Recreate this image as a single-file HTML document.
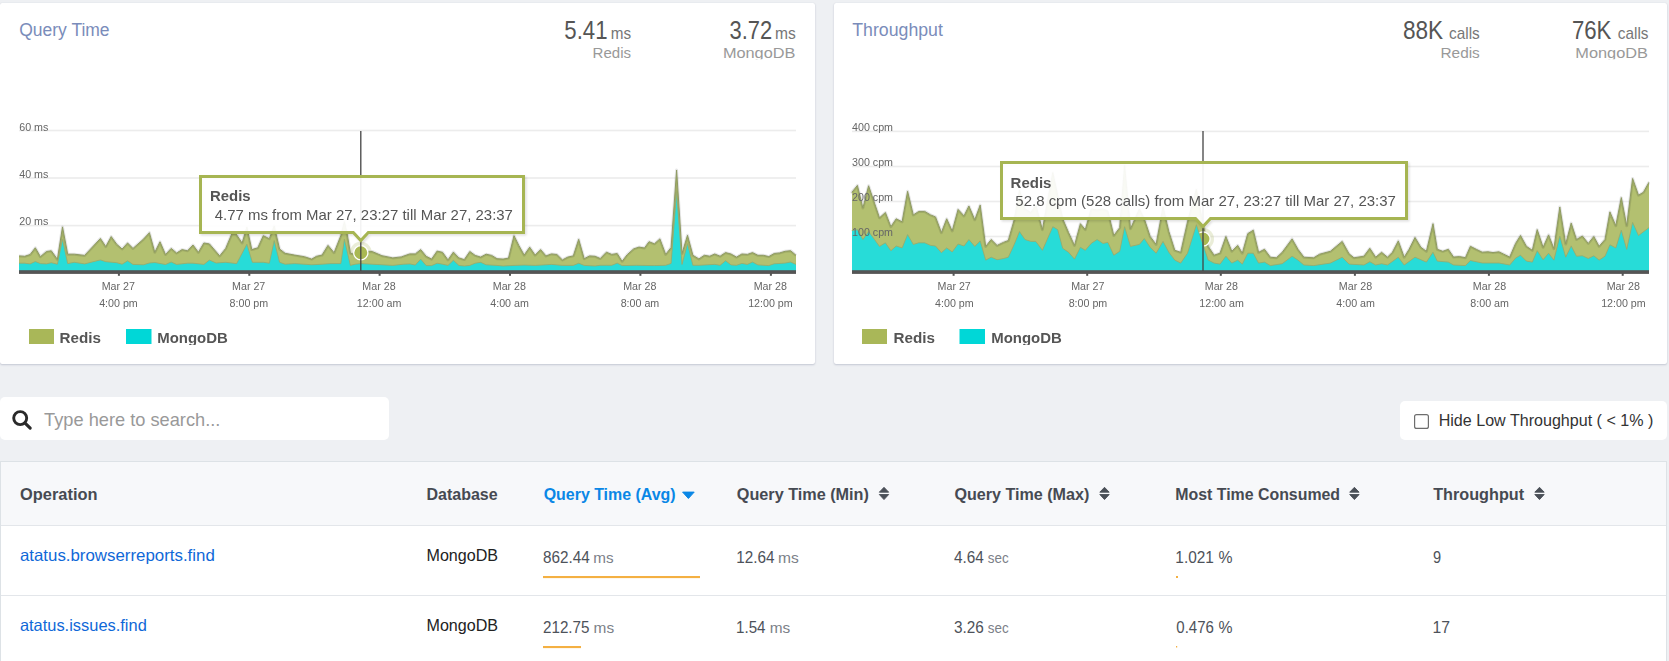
<!DOCTYPE html>
<html><head><meta charset="utf-8"><title>Database Queries</title>
<style>
html,body{margin:0;padding:0;}
body{width:1669px;height:661px;overflow:hidden;position:relative;background:#eef0f3;font-family:"Liberation Sans",sans-serif;}
.card{position:absolute;background:#fff;border-radius:2px;box-shadow:0 1px 2px rgba(60,70,110,0.22),0 0 1px rgba(60,70,110,0.15);}
.box{position:absolute;background:#fff;border-radius:5px;}
.table{position:absolute;left:0;top:461px;width:1667px;height:220px;background:#fff;border:1px solid #dde2e6;box-sizing:border-box;}
.thead{position:absolute;left:0;top:0;right:0;height:63px;background:#f7f8fa;border-bottom:1px solid #e3e6ea;}
.sep{position:absolute;left:0;right:0;top:133px;height:1px;background:#e3e6ea;}
svg{position:absolute;left:0;top:0;}
.charts{will-change:transform;}
</style></head>
<body>
<div class="card" style="left:0;top:3px;width:815px;height:361px"></div>
<div class="card" style="left:834px;top:3px;width:833px;height:361px"></div>
<div class="box" style="left:0;top:397px;width:389px;height:43px"></div>
<div class="box" style="left:1400px;top:401px;width:267px;height:39px"></div>
<div class="table"><div class="thead"></div><div class="sep"></div></div>
<svg width="1669" height="661" viewBox="0 0 1669 661" font-family="Liberation Sans, sans-serif">
<defs><clipPath id="clip593"><rect x="0" y="0" width="1669" height="59.3"/></clipPath><clipPath id="clip3450"><rect x="0" y="0" width="1669" height="345.0"/></clipPath><filter id="blur" x="-5%" y="-20%" width="110%" height="140%"><feGaussianBlur stdDeviation="1"/></filter></defs>
<text x="19.20" y="35.80" font-size="17.5" fill="#7a8cba" textLength="90.43" lengthAdjust="spacingAndGlyphs">Query Time</text>
<text x="852.30" y="35.80" font-size="17.5" fill="#7a8cba" textLength="90.56" lengthAdjust="spacingAndGlyphs">Throughput</text>
<text x="564.31" y="39.00" font-size="25" fill="#555" textLength="43.19" lengthAdjust="spacingAndGlyphs">5.41</text>
<text x="610.70" y="39.00" font-size="17" fill="#777" textLength="20.35" lengthAdjust="spacingAndGlyphs">ms</text>
<text x="592.60" y="58.40" font-size="15" fill="#999" textLength="38.51" lengthAdjust="spacingAndGlyphs" clip-path="url(#clip593)">Redis</text>
<text x="729.50" y="39.00" font-size="25" fill="#555" textLength="42.69" lengthAdjust="spacingAndGlyphs">3.72</text>
<text x="775.08" y="39.00" font-size="17" fill="#777" textLength="20.78" lengthAdjust="spacingAndGlyphs">ms</text>
<text x="722.91" y="58.40" font-size="15" fill="#999" textLength="72.49" lengthAdjust="spacingAndGlyphs" clip-path="url(#clip593)">MongoDB</text>
<text x="1402.90" y="39.00" font-size="25" fill="#555" textLength="40.21" lengthAdjust="spacingAndGlyphs">88K</text>
<text x="1449.00" y="39.00" font-size="17" fill="#777" textLength="30.75" lengthAdjust="spacingAndGlyphs">calls</text>
<text x="1440.47" y="58.40" font-size="15" fill="#999" textLength="39.34" lengthAdjust="spacingAndGlyphs" clip-path="url(#clip593)">Redis</text>
<text x="1571.91" y="39.00" font-size="25" fill="#555" textLength="39.50" lengthAdjust="spacingAndGlyphs">76K</text>
<text x="1617.80" y="39.00" font-size="17" fill="#777" textLength="30.65" lengthAdjust="spacingAndGlyphs">calls</text>
<text x="1575.31" y="58.40" font-size="15" fill="#999" textLength="72.70" lengthAdjust="spacingAndGlyphs" clip-path="url(#clip593)">MongoDB</text>
<text x="44.10" y="425.80" font-size="19" fill="#999" textLength="176.23" lengthAdjust="spacingAndGlyphs">Type here to search...</text>
<text x="1438.70" y="425.60" font-size="16" fill="#333" textLength="214.63" lengthAdjust="spacingAndGlyphs">Hide Low Throughput ( &lt; 1% )</text>
<text x="20.10" y="500.00" font-size="16" font-weight="bold" fill="#464a52" textLength="77.39" lengthAdjust="spacingAndGlyphs">Operation</text>
<text x="426.50" y="500.00" font-size="16" font-weight="bold" fill="#464a52" textLength="71.10" lengthAdjust="spacingAndGlyphs">Database</text>
<text x="543.70" y="500.00" font-size="16" font-weight="bold" fill="#0a87e6" textLength="131.93" lengthAdjust="spacingAndGlyphs">Query Time (Avg)</text>
<text x="736.80" y="500.00" font-size="16" font-weight="bold" fill="#464a52" textLength="132.13" lengthAdjust="spacingAndGlyphs">Query Time (Min)</text>
<text x="954.40" y="500.00" font-size="16" font-weight="bold" fill="#464a52" textLength="134.93" lengthAdjust="spacingAndGlyphs">Query Time (Max)</text>
<text x="1175.31" y="500.00" font-size="16" font-weight="bold" fill="#464a52" textLength="164.76" lengthAdjust="spacingAndGlyphs">Most Time Consumed</text>
<text x="1433.20" y="500.00" font-size="16" font-weight="bold" fill="#464a52" textLength="90.92" lengthAdjust="spacingAndGlyphs">Throughput</text>
<text x="19.90" y="561.20" font-size="16.5" fill="#0f68d8" textLength="194.88" lengthAdjust="spacingAndGlyphs">atatus.browserreports.find</text>
<text x="426.50" y="560.70" font-size="16" fill="#222" textLength="71.48" lengthAdjust="spacingAndGlyphs">MongoDB</text>
<text x="19.90" y="631.20" font-size="16.5" fill="#0f68d8" textLength="126.88" lengthAdjust="spacingAndGlyphs">atatus.issues.find</text>
<text x="426.50" y="630.70" font-size="16" fill="#222" textLength="71.48" lengthAdjust="spacingAndGlyphs">MongoDB</text>
<text x="543.10" y="562.90" font-size="16" fill="#4d525a" textLength="46.70" lengthAdjust="spacingAndGlyphs">862.44</text>
<text x="593.38" y="562.90" font-size="15" fill="#7b8088" textLength="20.32" lengthAdjust="spacingAndGlyphs">ms</text>
<text x="736.24" y="562.90" font-size="16" fill="#4d525a" textLength="38.26" lengthAdjust="spacingAndGlyphs">12.64</text>
<text x="778.06" y="562.90" font-size="15" fill="#7b8088" textLength="20.76" lengthAdjust="spacingAndGlyphs">ms</text>
<text x="954.00" y="562.90" font-size="16" fill="#4d525a" textLength="29.80" lengthAdjust="spacingAndGlyphs">4.64</text>
<text x="987.80" y="562.90" font-size="15" fill="#7b8088" textLength="20.85" lengthAdjust="spacingAndGlyphs">sec</text>
<text x="1175.34" y="562.90" font-size="16" fill="#4d525a" textLength="38.57" lengthAdjust="spacingAndGlyphs">1.021</text>
<text x="1218.50" y="562.90" font-size="16" fill="#4d525a" textLength="14.02" lengthAdjust="spacingAndGlyphs">%</text>
<text x="1432.90" y="562.90" font-size="16" fill="#4d525a" textLength="8.11" lengthAdjust="spacingAndGlyphs">9</text>
<text x="543.00" y="632.90" font-size="16" fill="#4d525a" textLength="46.50" lengthAdjust="spacingAndGlyphs">212.75</text>
<text x="593.57" y="632.90" font-size="15" fill="#7b8088" textLength="20.54" lengthAdjust="spacingAndGlyphs">ms</text>
<text x="736.05" y="632.90" font-size="16" fill="#4d525a" textLength="29.45" lengthAdjust="spacingAndGlyphs">1.54</text>
<text x="769.77" y="632.90" font-size="15" fill="#7b8088" textLength="20.54" lengthAdjust="spacingAndGlyphs">ms</text>
<text x="954.00" y="632.90" font-size="16" fill="#4d525a" textLength="29.80" lengthAdjust="spacingAndGlyphs">3.26</text>
<text x="987.80" y="632.90" font-size="15" fill="#7b8088" textLength="20.85" lengthAdjust="spacingAndGlyphs">sec</text>
<text x="1176.30" y="632.90" font-size="16" fill="#4d525a" textLength="37.60" lengthAdjust="spacingAndGlyphs">0.476</text>
<text x="1218.50" y="632.90" font-size="16" fill="#4d525a" textLength="14.02" lengthAdjust="spacingAndGlyphs">%</text>
<text x="1432.62" y="632.90" font-size="16" fill="#4d525a" textLength="17.48" lengthAdjust="spacingAndGlyphs">17</text>
<circle cx="20.2" cy="418.1" r="6.5" fill="none" stroke="#2a2a2a" stroke-width="2.9"/>
<line x1="24.8" y1="422.8" x2="30.2" y2="428.2" stroke="#2a2a2a" stroke-width="3.1" stroke-linecap="round"/>
<rect x="1414.6" y="414.6" width="13.8" height="13.8" rx="2" fill="#fff" stroke="#6e6e6e" stroke-width="1.2"/>
<path d="M879.3,492.2 L884.0,487.3 L888.6999999999999,492.2 Z M879.3,494.5 L884.0,499.6 L888.6999999999999,494.5 Z" fill="#4a4f57" stroke="#4a4f57" stroke-width="0.9" stroke-linejoin="round"/>
<path d="M1099.8000000000002,492.2 L1104.5,487.3 L1109.2,492.2 Z M1099.8000000000002,494.5 L1104.5,499.6 L1109.2,494.5 Z" fill="#4a4f57" stroke="#4a4f57" stroke-width="0.9" stroke-linejoin="round"/>
<path d="M1349.7,492.2 L1354.3999999999999,487.3 L1359.1,492.2 Z M1349.7,494.5 L1354.3999999999999,499.6 L1359.1,494.5 Z" fill="#4a4f57" stroke="#4a4f57" stroke-width="0.9" stroke-linejoin="round"/>
<path d="M1534.8000000000002,492.2 L1539.5,487.3 L1544.2,492.2 Z M1534.8000000000002,494.5 L1539.5,499.6 L1544.2,494.5 Z" fill="#4a4f57" stroke="#4a4f57" stroke-width="0.9" stroke-linejoin="round"/>
<path d="M682.6,492.1 L694.2,492.1 L688.4,498.5 Z" fill="#0a87e6" stroke="#0a87e6" stroke-width="1" stroke-linejoin="round"/>
<rect x="543" y="576" width="157" height="2.1" fill="#f4b042"/>
<rect x="543" y="646" width="38" height="2.1" fill="#f4b042"/>
<rect x="1176" y="576" width="2" height="2" fill="#f4b042"/>
<rect x="1176" y="646" width="1.2" height="1.5" fill="#f4b042"/>
</svg>
<svg class="charts" width="1669" height="370" viewBox="0 0 1669 370" font-family="Liberation Sans, sans-serif">
<defs><clipPath id="cclip593"><rect x="0" y="0" width="1669" height="59.3"/></clipPath><clipPath id="cclip3450"><rect x="0" y="0" width="1669" height="345.0"/></clipPath><filter id="blur2" x="-5%" y="-20%" width="110%" height="140%"><feGaussianBlur stdDeviation="1"/></filter></defs>
<rect x="19" y="129.7" width="777" height="1.6" fill="#ececec"/>
<rect x="19" y="177.2" width="777" height="1.6" fill="#ececec"/>
<rect x="19" y="224.79999999999998" width="777" height="1.6" fill="#ececec"/>
<circle cx="360.8" cy="252.7" r="11" fill="#b9c57e" fill-opacity="0.3"/>
<polygon points="19.0,271.5 19.0,255.9 19.2,255.9 24.7,256.3 30.1,254.5 35.3,247.8 40.4,256.7 46.5,251.5 51.3,250.8 57.4,259.3 62.5,226.9 67.7,254.2 74.3,254.2 84.6,255.4 100.4,238.5 105.8,246.6 111.2,236.6 116.7,244.2 122.1,249.0 127.6,243.0 133.0,248.4 143.3,239.3 149.4,232.7 154.8,252.3 160.0,241.8 165.5,254.5 171.2,248.4 176.6,253.0 182.1,249.6 187.5,250.8 193.0,245.0 198.4,252.3 203.9,243.0 209.4,243.9 219.7,255.9 225.7,248.4 231.8,233.9 236.0,233.9 242.1,243.0 246.9,227.2 251.8,249.6 257.8,247.8 263.3,235.7 269.3,238.7 274.2,226.0 279.6,249.0 285.1,253.3 294.7,255.1 304.4,256.7 311.7,259.1 316.5,256.3 322.0,255.1 328.0,245.4 334.1,252.7 340.8,235.7 344.4,221.8 347.4,235.1 350.4,253.3 355.3,254.5 361.3,252.1 372.2,251.5 381.9,255.7 392.8,257.9 401.3,256.9 409.8,253.9 415.3,253.9 420.7,249.6 426.2,256.3 431.6,259.1 437.1,251.1 442.5,252.3 448.0,259.9 453.4,252.1 458.9,257.9 464.3,259.6 469.8,251.5 475.2,255.4 480.7,257.1 486.1,254.2 491.6,255.4 497.0,258.7 503.1,259.1 508.5,258.1 514.0,235.7 518.8,245.4 524.2,255.1 529.7,247.2 535.1,255.1 540.6,249.6 546.0,255.9 551.5,253.9 556.9,254.5 562.4,259.9 567.8,257.1 573.3,255.9 578.7,239.3 584.2,258.7 589.6,255.9 595.1,256.3 600.3,258.5 606.4,252.2 611.8,254.4 617.2,253.5 622.1,261.3 627.2,254.7 633.6,248.9 639.0,247.1 644.5,248.0 649.0,241.7 654.4,243.8 659.9,238.9 665.7,254.4 671.1,247.5 676.6,170.0 682.0,253.5 687.5,235.3 692.9,255.3 698.9,258.9 704.4,255.3 709.8,256.2 714.7,254.0 720.1,256.2 725.6,252.6 731.0,254.0 736.5,257.1 741.9,254.0 747.4,254.4 752.5,252.6 757.9,255.3 763.3,255.3 768.8,256.6 774.2,253.5 779.7,252.9 785.1,251.3 790.6,250.7 796.0,255.3 796.0,255.3 796.0,271.5" fill="#b3c070"/>
<polyline points="19.0,255.9 19.2,255.9 24.7,256.3 30.1,254.5 35.3,247.8 40.4,256.7 46.5,251.5 51.3,250.8 57.4,259.3 62.5,226.9 67.7,254.2 74.3,254.2 84.6,255.4 100.4,238.5 105.8,246.6 111.2,236.6 116.7,244.2 122.1,249.0 127.6,243.0 133.0,248.4 143.3,239.3 149.4,232.7 154.8,252.3 160.0,241.8 165.5,254.5 171.2,248.4 176.6,253.0 182.1,249.6 187.5,250.8 193.0,245.0 198.4,252.3 203.9,243.0 209.4,243.9 219.7,255.9 225.7,248.4 231.8,233.9 236.0,233.9 242.1,243.0 246.9,227.2 251.8,249.6 257.8,247.8 263.3,235.7 269.3,238.7 274.2,226.0 279.6,249.0 285.1,253.3 294.7,255.1 304.4,256.7 311.7,259.1 316.5,256.3 322.0,255.1 328.0,245.4 334.1,252.7 340.8,235.7 344.4,221.8 347.4,235.1 350.4,253.3 355.3,254.5 361.3,252.1 372.2,251.5 381.9,255.7 392.8,257.9 401.3,256.9 409.8,253.9 415.3,253.9 420.7,249.6 426.2,256.3 431.6,259.1 437.1,251.1 442.5,252.3 448.0,259.9 453.4,252.1 458.9,257.9 464.3,259.6 469.8,251.5 475.2,255.4 480.7,257.1 486.1,254.2 491.6,255.4 497.0,258.7 503.1,259.1 508.5,258.1 514.0,235.7 518.8,245.4 524.2,255.1 529.7,247.2 535.1,255.1 540.6,249.6 546.0,255.9 551.5,253.9 556.9,254.5 562.4,259.9 567.8,257.1 573.3,255.9 578.7,239.3 584.2,258.7 589.6,255.9 595.1,256.3 600.3,258.5 606.4,252.2 611.8,254.4 617.2,253.5 622.1,261.3 627.2,254.7 633.6,248.9 639.0,247.1 644.5,248.0 649.0,241.7 654.4,243.8 659.9,238.9 665.7,254.4 671.1,247.5 676.6,170.0 682.0,253.5 687.5,235.3 692.9,255.3 698.9,258.9 704.4,255.3 709.8,256.2 714.7,254.0 720.1,256.2 725.6,252.6 731.0,254.0 736.5,257.1 741.9,254.0 747.4,254.4 752.5,252.6 757.9,255.3 763.3,255.3 768.8,256.6 774.2,253.5 779.7,252.9 785.1,251.3 790.6,250.7 796.0,255.3 796.0,255.3" fill="none" stroke="#000" stroke-opacity="0.10" stroke-width="3.0" stroke-linejoin="round"/>
<polyline points="19.0,255.9 19.2,255.9 24.7,256.3 30.1,254.5 35.3,247.8 40.4,256.7 46.5,251.5 51.3,250.8 57.4,259.3 62.5,226.9 67.7,254.2 74.3,254.2 84.6,255.4 100.4,238.5 105.8,246.6 111.2,236.6 116.7,244.2 122.1,249.0 127.6,243.0 133.0,248.4 143.3,239.3 149.4,232.7 154.8,252.3 160.0,241.8 165.5,254.5 171.2,248.4 176.6,253.0 182.1,249.6 187.5,250.8 193.0,245.0 198.4,252.3 203.9,243.0 209.4,243.9 219.7,255.9 225.7,248.4 231.8,233.9 236.0,233.9 242.1,243.0 246.9,227.2 251.8,249.6 257.8,247.8 263.3,235.7 269.3,238.7 274.2,226.0 279.6,249.0 285.1,253.3 294.7,255.1 304.4,256.7 311.7,259.1 316.5,256.3 322.0,255.1 328.0,245.4 334.1,252.7 340.8,235.7 344.4,221.8 347.4,235.1 350.4,253.3 355.3,254.5 361.3,252.1 372.2,251.5 381.9,255.7 392.8,257.9 401.3,256.9 409.8,253.9 415.3,253.9 420.7,249.6 426.2,256.3 431.6,259.1 437.1,251.1 442.5,252.3 448.0,259.9 453.4,252.1 458.9,257.9 464.3,259.6 469.8,251.5 475.2,255.4 480.7,257.1 486.1,254.2 491.6,255.4 497.0,258.7 503.1,259.1 508.5,258.1 514.0,235.7 518.8,245.4 524.2,255.1 529.7,247.2 535.1,255.1 540.6,249.6 546.0,255.9 551.5,253.9 556.9,254.5 562.4,259.9 567.8,257.1 573.3,255.9 578.7,239.3 584.2,258.7 589.6,255.9 595.1,256.3 600.3,258.5 606.4,252.2 611.8,254.4 617.2,253.5 622.1,261.3 627.2,254.7 633.6,248.9 639.0,247.1 644.5,248.0 649.0,241.7 654.4,243.8 659.9,238.9 665.7,254.4 671.1,247.5 676.6,170.0 682.0,253.5 687.5,235.3 692.9,255.3 698.9,258.9 704.4,255.3 709.8,256.2 714.7,254.0 720.1,256.2 725.6,252.6 731.0,254.0 736.5,257.1 741.9,254.0 747.4,254.4 752.5,252.6 757.9,255.3 763.3,255.3 768.8,256.6 774.2,253.5 779.7,252.9 785.1,251.3 790.6,250.7 796.0,255.3 796.0,255.3" fill="none" stroke="#8e9a62" stroke-width="1.0" stroke-linejoin="round"/>
<circle cx="360.8" cy="252.7" r="7.1" fill="#a9b852" stroke="#fff" stroke-width="1.3"/>
<polygon points="19.0,271.5 19.0,263.2 19.2,263.2 24.7,263.2 30.1,263.9 35.3,261.5 40.4,263.6 46.5,263.9 51.3,262.7 57.4,264.2 62.5,239.3 67.7,263.6 74.3,262.3 84.6,263.9 100.4,259.9 105.8,261.7 116.7,262.7 122.1,264.2 127.6,260.8 133.0,264.4 143.3,264.8 149.4,263.0 154.8,262.5 165.5,264.5 171.2,262.0 176.6,264.4 187.5,263.2 193.0,263.2 203.9,264.4 209.4,260.0 216.1,263.0 225.7,262.3 236.6,263.6 246.9,244.2 252.4,262.3 263.3,262.3 269.3,263.2 274.2,240.6 279.6,262.3 285.1,264.2 294.7,263.6 306.9,264.4 311.7,264.8 322.0,264.2 331.1,263.6 340.8,263.6 344.4,239.3 350.4,265.4 355.3,264.2 361.3,263.6 372.2,264.2 381.9,264.8 392.8,265.4 403.7,264.2 409.8,263.9 415.3,265.1 420.7,259.1 426.2,265.6 431.6,265.6 437.1,263.2 442.5,264.2 448.0,265.4 453.4,260.3 458.9,265.4 464.3,266.0 469.8,265.4 475.2,263.2 480.7,262.3 486.1,264.8 497.0,265.4 503.1,266.0 514.0,265.4 524.2,265.1 535.1,265.4 546.0,264.8 551.5,264.4 562.4,265.4 573.3,265.4 578.7,263.2 584.2,265.4 595.1,266.0 600.0,265.3 606.4,265.3 611.8,265.3 617.2,263.1 622.1,265.6 636.3,265.3 654.4,265.6 665.7,265.3 671.1,263.4 676.6,191.8 682.0,264.4 687.5,243.5 692.9,265.3 698.9,265.3 714.7,264.4 720.1,265.3 725.6,260.7 731.0,264.9 736.5,265.3 741.9,263.4 747.4,264.4 752.5,262.0 757.9,264.9 768.8,265.6 774.2,263.8 785.1,263.1 790.6,262.0 796.0,264.4 796.0,264.4 796.0,271.5" fill="#27dcd8"/>
<polyline points="19.0,263.2 19.2,263.2 24.7,263.2 30.1,263.9 35.3,261.5 40.4,263.6 46.5,263.9 51.3,262.7 57.4,264.2 62.5,239.3 67.7,263.6 74.3,262.3 84.6,263.9 100.4,259.9 105.8,261.7 116.7,262.7 122.1,264.2 127.6,260.8 133.0,264.4 143.3,264.8 149.4,263.0 154.8,262.5 165.5,264.5 171.2,262.0 176.6,264.4 187.5,263.2 193.0,263.2 203.9,264.4 209.4,260.0 216.1,263.0 225.7,262.3 236.6,263.6 246.9,244.2 252.4,262.3 263.3,262.3 269.3,263.2 274.2,240.6 279.6,262.3 285.1,264.2 294.7,263.6 306.9,264.4 311.7,264.8 322.0,264.2 331.1,263.6 340.8,263.6 344.4,239.3 350.4,265.4 355.3,264.2 361.3,263.6 372.2,264.2 381.9,264.8 392.8,265.4 403.7,264.2 409.8,263.9 415.3,265.1 420.7,259.1 426.2,265.6 431.6,265.6 437.1,263.2 442.5,264.2 448.0,265.4 453.4,260.3 458.9,265.4 464.3,266.0 469.8,265.4 475.2,263.2 480.7,262.3 486.1,264.8 497.0,265.4 503.1,266.0 514.0,265.4 524.2,265.1 535.1,265.4 546.0,264.8 551.5,264.4 562.4,265.4 573.3,265.4 578.7,263.2 584.2,265.4 595.1,266.0 600.0,265.3 606.4,265.3 611.8,265.3 617.2,263.1 622.1,265.6 636.3,265.3 654.4,265.6 665.7,265.3 671.1,263.4 676.6,191.8 682.0,264.4 687.5,243.5 692.9,265.3 698.9,265.3 714.7,264.4 720.1,265.3 725.6,260.7 731.0,264.9 736.5,265.3 741.9,263.4 747.4,264.4 752.5,262.0 757.9,264.9 768.8,265.6 774.2,263.8 785.1,263.1 790.6,262.0 796.0,264.4 796.0,264.4" fill="none" stroke="#9aa86a" stroke-width="0.8" stroke-linejoin="round"/>
<rect x="19" y="270.2" width="777" height="3.7" fill="#555"/>
<rect x="117.9" y="273" width="2" height="2.8" fill="#555"/>
<rect x="248.3" y="273" width="2" height="2.8" fill="#555"/>
<rect x="378.6" y="273" width="2" height="2.8" fill="#555"/>
<rect x="509.0" y="273" width="2" height="2.8" fill="#555"/>
<rect x="639.4" y="273" width="2" height="2.8" fill="#555"/>
<rect x="769.9" y="273" width="2" height="2.8" fill="#555"/>
<rect x="360.15000000000003" y="131" width="1.3" height="140" fill="#444"/>
<rect x="852" y="130.6" width="797" height="1.6" fill="#ececec"/>
<rect x="852" y="165.7" width="797" height="1.6" fill="#ececec"/>
<rect x="852" y="200.7" width="797" height="1.6" fill="#ececec"/>
<rect x="852" y="235.7" width="797" height="1.6" fill="#ececec"/>
<circle cx="1203.0" cy="239.0" r="11" fill="#b9c57e" fill-opacity="0.3"/>
<polygon points="852.0,271.5 852.0,192.3 851.9,192.3 857.4,185.4 862.9,208.0 868.6,185.8 874.5,203.1 879.5,217.8 885.4,212.5 890.9,226.7 896.2,218.8 902.1,221.8 907.6,191.3 913.3,214.9 918.8,211.4 924.7,211.4 930.6,214.9 935.5,216.9 941.4,232.6 946.7,218.8 952.2,231.0 958.1,209.4 964.0,215.9 968.9,206.0 974.8,219.8 980.2,205.1 985.7,246.4 991.2,239.5 997.1,245.4 1003.4,242.4 1008.3,240.5 1014.2,219.8 1019.5,190.3 1025.0,209.0 1030.9,212.5 1035.8,205.1 1042.4,229.6 1052.8,172.6 1062.7,218.8 1068.6,232.6 1074.5,245.4 1080.4,223.7 1085.3,229.6 1091.2,209.0 1097.1,210.0 1103.0,209.0 1107.9,211.0 1113.8,235.5 1119.7,227.7 1124.6,165.7 1130.5,228.7 1139.4,209.0 1144.3,218.8 1150.2,236.5 1156.1,244.4 1163.0,207.0 1168.9,231.6 1174.8,250.3 1180.7,252.3 1187.5,221.8 1196.4,189.3 1202.3,220.8 1208.2,246.4 1214.1,255.2 1220.0,253.2 1225.9,236.5 1231.8,251.3 1237.7,245.4 1242.3,253.2 1247.8,233.6 1253.3,230.2 1258.6,252.3 1264.5,249.3 1270.4,257.2 1276.3,257.8 1282.2,252.3 1292.1,238.9 1298.0,249.3 1303.9,257.2 1313.7,257.8 1319.6,254.2 1330.4,251.3 1342.2,241.4 1349.1,253.8 1354.0,257.8 1363.9,256.2 1369.8,248.3 1375.7,257.2 1381.6,252.3 1387.5,257.2 1392.4,252.3 1398.3,240.9 1404.2,257.2 1409.1,249.3 1415.0,237.5 1420.9,247.3 1426.4,251.3 1433.0,223.7 1437.3,249.3 1442.8,251.3 1448.3,249.3 1453.6,257.1 1459.5,256.6 1465.4,257.7 1470.4,246.3 1476.3,249.3 1482.2,252.2 1488.0,251.8 1493.0,252.6 1498.9,251.8 1503.8,254.2 1509.7,257.1 1515.6,243.4 1520.5,235.5 1526.4,246.3 1532.3,250.3 1537.2,229.6 1543.1,247.3 1548.6,234.9 1553.9,248.7 1559.8,207.0 1565.7,244.0 1571.2,223.1 1576.5,239.5 1582.4,236.1 1588.3,243.4 1593.8,236.5 1599.1,246.3 1605.0,239.5 1609.9,211.9 1615.8,225.7 1621.3,197.6 1626.7,225.7 1632.6,178.5 1638.5,195.2 1643.4,192.3 1648.9,182.4 1649.0,182.4 1649.0,271.5" fill="#b3c070"/>
<polyline points="852.0,192.3 851.9,192.3 857.4,185.4 862.9,208.0 868.6,185.8 874.5,203.1 879.5,217.8 885.4,212.5 890.9,226.7 896.2,218.8 902.1,221.8 907.6,191.3 913.3,214.9 918.8,211.4 924.7,211.4 930.6,214.9 935.5,216.9 941.4,232.6 946.7,218.8 952.2,231.0 958.1,209.4 964.0,215.9 968.9,206.0 974.8,219.8 980.2,205.1 985.7,246.4 991.2,239.5 997.1,245.4 1003.4,242.4 1008.3,240.5 1014.2,219.8 1019.5,190.3 1025.0,209.0 1030.9,212.5 1035.8,205.1 1042.4,229.6 1052.8,172.6 1062.7,218.8 1068.6,232.6 1074.5,245.4 1080.4,223.7 1085.3,229.6 1091.2,209.0 1097.1,210.0 1103.0,209.0 1107.9,211.0 1113.8,235.5 1119.7,227.7 1124.6,165.7 1130.5,228.7 1139.4,209.0 1144.3,218.8 1150.2,236.5 1156.1,244.4 1163.0,207.0 1168.9,231.6 1174.8,250.3 1180.7,252.3 1187.5,221.8 1196.4,189.3 1202.3,220.8 1208.2,246.4 1214.1,255.2 1220.0,253.2 1225.9,236.5 1231.8,251.3 1237.7,245.4 1242.3,253.2 1247.8,233.6 1253.3,230.2 1258.6,252.3 1264.5,249.3 1270.4,257.2 1276.3,257.8 1282.2,252.3 1292.1,238.9 1298.0,249.3 1303.9,257.2 1313.7,257.8 1319.6,254.2 1330.4,251.3 1342.2,241.4 1349.1,253.8 1354.0,257.8 1363.9,256.2 1369.8,248.3 1375.7,257.2 1381.6,252.3 1387.5,257.2 1392.4,252.3 1398.3,240.9 1404.2,257.2 1409.1,249.3 1415.0,237.5 1420.9,247.3 1426.4,251.3 1433.0,223.7 1437.3,249.3 1442.8,251.3 1448.3,249.3 1453.6,257.1 1459.5,256.6 1465.4,257.7 1470.4,246.3 1476.3,249.3 1482.2,252.2 1488.0,251.8 1493.0,252.6 1498.9,251.8 1503.8,254.2 1509.7,257.1 1515.6,243.4 1520.5,235.5 1526.4,246.3 1532.3,250.3 1537.2,229.6 1543.1,247.3 1548.6,234.9 1553.9,248.7 1559.8,207.0 1565.7,244.0 1571.2,223.1 1576.5,239.5 1582.4,236.1 1588.3,243.4 1593.8,236.5 1599.1,246.3 1605.0,239.5 1609.9,211.9 1615.8,225.7 1621.3,197.6 1626.7,225.7 1632.6,178.5 1638.5,195.2 1643.4,192.3 1648.9,182.4 1649.0,182.4" fill="none" stroke="#000" stroke-opacity="0.10" stroke-width="3.0" stroke-linejoin="round"/>
<polyline points="852.0,192.3 851.9,192.3 857.4,185.4 862.9,208.0 868.6,185.8 874.5,203.1 879.5,217.8 885.4,212.5 890.9,226.7 896.2,218.8 902.1,221.8 907.6,191.3 913.3,214.9 918.8,211.4 924.7,211.4 930.6,214.9 935.5,216.9 941.4,232.6 946.7,218.8 952.2,231.0 958.1,209.4 964.0,215.9 968.9,206.0 974.8,219.8 980.2,205.1 985.7,246.4 991.2,239.5 997.1,245.4 1003.4,242.4 1008.3,240.5 1014.2,219.8 1019.5,190.3 1025.0,209.0 1030.9,212.5 1035.8,205.1 1042.4,229.6 1052.8,172.6 1062.7,218.8 1068.6,232.6 1074.5,245.4 1080.4,223.7 1085.3,229.6 1091.2,209.0 1097.1,210.0 1103.0,209.0 1107.9,211.0 1113.8,235.5 1119.7,227.7 1124.6,165.7 1130.5,228.7 1139.4,209.0 1144.3,218.8 1150.2,236.5 1156.1,244.4 1163.0,207.0 1168.9,231.6 1174.8,250.3 1180.7,252.3 1187.5,221.8 1196.4,189.3 1202.3,220.8 1208.2,246.4 1214.1,255.2 1220.0,253.2 1225.9,236.5 1231.8,251.3 1237.7,245.4 1242.3,253.2 1247.8,233.6 1253.3,230.2 1258.6,252.3 1264.5,249.3 1270.4,257.2 1276.3,257.8 1282.2,252.3 1292.1,238.9 1298.0,249.3 1303.9,257.2 1313.7,257.8 1319.6,254.2 1330.4,251.3 1342.2,241.4 1349.1,253.8 1354.0,257.8 1363.9,256.2 1369.8,248.3 1375.7,257.2 1381.6,252.3 1387.5,257.2 1392.4,252.3 1398.3,240.9 1404.2,257.2 1409.1,249.3 1415.0,237.5 1420.9,247.3 1426.4,251.3 1433.0,223.7 1437.3,249.3 1442.8,251.3 1448.3,249.3 1453.6,257.1 1459.5,256.6 1465.4,257.7 1470.4,246.3 1476.3,249.3 1482.2,252.2 1488.0,251.8 1493.0,252.6 1498.9,251.8 1503.8,254.2 1509.7,257.1 1515.6,243.4 1520.5,235.5 1526.4,246.3 1532.3,250.3 1537.2,229.6 1543.1,247.3 1548.6,234.9 1553.9,248.7 1559.8,207.0 1565.7,244.0 1571.2,223.1 1576.5,239.5 1582.4,236.1 1588.3,243.4 1593.8,236.5 1599.1,246.3 1605.0,239.5 1609.9,211.9 1615.8,225.7 1621.3,197.6 1626.7,225.7 1632.6,178.5 1638.5,195.2 1643.4,192.3 1648.9,182.4 1649.0,182.4" fill="none" stroke="#8e9a62" stroke-width="1.0" stroke-linejoin="round"/>
<circle cx="1203.0" cy="239.0" r="7.1" fill="#a9b852" stroke="#fff" stroke-width="1.3"/>
<polygon points="852.0,271.5 852.0,230.6 851.9,230.6 857.4,229.6 862.9,239.5 868.6,231.6 874.5,239.5 879.5,246.4 885.4,242.8 890.9,250.7 896.2,246.0 902.1,247.9 907.6,234.6 913.3,244.4 918.8,242.8 924.7,242.8 930.6,245.4 935.5,246.0 941.4,252.7 946.7,247.9 952.2,251.9 958.1,244.0 964.0,246.0 968.9,239.5 974.8,246.4 980.2,240.9 985.7,260.1 991.2,257.2 997.1,259.7 1003.4,258.6 1008.3,257.2 1014.2,244.4 1019.5,231.6 1025.0,239.5 1030.9,241.4 1035.8,241.4 1042.4,250.3 1052.8,226.7 1057.7,229.6 1062.7,248.3 1068.6,252.3 1074.5,259.1 1080.4,247.3 1085.3,250.3 1091.2,243.4 1097.1,239.5 1103.0,243.4 1107.9,242.4 1113.8,255.2 1119.7,251.3 1124.6,226.7 1130.5,246.4 1139.4,244.4 1144.3,238.5 1150.2,247.3 1156.1,253.2 1163.0,241.4 1168.9,252.3 1174.8,260.1 1180.7,263.1 1187.5,253.2 1196.4,224.7 1202.3,242.4 1208.2,260.1 1214.1,263.1 1220.0,264.1 1225.9,256.2 1231.8,263.1 1237.7,260.1 1242.3,264.1 1247.8,253.2 1253.3,253.2 1258.6,263.1 1264.5,262.1 1270.4,265.6 1282.2,263.7 1292.1,256.2 1298.0,260.1 1303.9,265.0 1313.7,265.6 1330.4,263.1 1342.2,257.2 1349.1,264.1 1363.9,265.0 1369.8,261.7 1375.7,265.0 1381.6,263.7 1387.5,265.0 1398.3,257.2 1404.2,265.0 1415.0,257.2 1426.4,262.1 1433.0,252.2 1437.3,261.1 1448.3,262.1 1453.6,265.0 1465.4,265.6 1470.4,260.5 1482.2,263.0 1498.9,263.0 1509.7,265.0 1515.6,258.1 1520.5,255.2 1526.4,261.1 1532.3,262.1 1537.2,250.7 1543.1,259.7 1548.6,253.2 1553.9,260.1 1559.8,236.1 1565.7,257.1 1571.2,245.9 1576.5,256.2 1582.4,255.8 1588.3,258.5 1593.8,255.8 1599.1,260.1 1605.0,256.2 1609.9,244.8 1615.8,247.9 1621.3,230.2 1626.7,249.3 1632.6,222.4 1638.5,235.5 1648.9,227.7 1649.0,227.7 1649.0,271.5" fill="#27dcd8"/>
<polyline points="852.0,230.6 851.9,230.6 857.4,229.6 862.9,239.5 868.6,231.6 874.5,239.5 879.5,246.4 885.4,242.8 890.9,250.7 896.2,246.0 902.1,247.9 907.6,234.6 913.3,244.4 918.8,242.8 924.7,242.8 930.6,245.4 935.5,246.0 941.4,252.7 946.7,247.9 952.2,251.9 958.1,244.0 964.0,246.0 968.9,239.5 974.8,246.4 980.2,240.9 985.7,260.1 991.2,257.2 997.1,259.7 1003.4,258.6 1008.3,257.2 1014.2,244.4 1019.5,231.6 1025.0,239.5 1030.9,241.4 1035.8,241.4 1042.4,250.3 1052.8,226.7 1057.7,229.6 1062.7,248.3 1068.6,252.3 1074.5,259.1 1080.4,247.3 1085.3,250.3 1091.2,243.4 1097.1,239.5 1103.0,243.4 1107.9,242.4 1113.8,255.2 1119.7,251.3 1124.6,226.7 1130.5,246.4 1139.4,244.4 1144.3,238.5 1150.2,247.3 1156.1,253.2 1163.0,241.4 1168.9,252.3 1174.8,260.1 1180.7,263.1 1187.5,253.2 1196.4,224.7 1202.3,242.4 1208.2,260.1 1214.1,263.1 1220.0,264.1 1225.9,256.2 1231.8,263.1 1237.7,260.1 1242.3,264.1 1247.8,253.2 1253.3,253.2 1258.6,263.1 1264.5,262.1 1270.4,265.6 1282.2,263.7 1292.1,256.2 1298.0,260.1 1303.9,265.0 1313.7,265.6 1330.4,263.1 1342.2,257.2 1349.1,264.1 1363.9,265.0 1369.8,261.7 1375.7,265.0 1381.6,263.7 1387.5,265.0 1398.3,257.2 1404.2,265.0 1415.0,257.2 1426.4,262.1 1433.0,252.2 1437.3,261.1 1448.3,262.1 1453.6,265.0 1465.4,265.6 1470.4,260.5 1482.2,263.0 1498.9,263.0 1509.7,265.0 1515.6,258.1 1520.5,255.2 1526.4,261.1 1532.3,262.1 1537.2,250.7 1543.1,259.7 1548.6,253.2 1553.9,260.1 1559.8,236.1 1565.7,257.1 1571.2,245.9 1576.5,256.2 1582.4,255.8 1588.3,258.5 1593.8,255.8 1599.1,260.1 1605.0,256.2 1609.9,244.8 1615.8,247.9 1621.3,230.2 1626.7,249.3 1632.6,222.4 1638.5,235.5 1648.9,227.7 1649.0,227.7" fill="none" stroke="#9aa86a" stroke-width="0.8" stroke-linejoin="round"/>
<rect x="852" y="270.2" width="797" height="3.7" fill="#555"/>
<rect x="952.6" y="273" width="2" height="2.8" fill="#555"/>
<rect x="1086.2" y="273" width="2" height="2.8" fill="#555"/>
<rect x="1219.8" y="273" width="2" height="2.8" fill="#555"/>
<rect x="1353.9" y="273" width="2" height="2.8" fill="#555"/>
<rect x="1487.9" y="273" width="2" height="2.8" fill="#555"/>
<rect x="1621.7" y="273" width="2" height="2.8" fill="#555"/>
<rect x="1202.35" y="131" width="1.3" height="140" fill="#444"/>
<rect x="29" y="329" width="25" height="15" fill="#a9b758"/>
<rect x="126" y="329" width="25.5" height="15" fill="#00d7d7"/>
<rect x="862" y="329" width="25" height="15" fill="#a9b758"/>
<rect x="959.5" y="329" width="25.5" height="15" fill="#00d7d7"/>
<text x="19.20" y="130.80" font-size="10.7" fill="#666">60 ms</text>
<text x="19.20" y="177.70" font-size="10.7" fill="#666">40 ms</text>
<text x="19.20" y="225.00" font-size="10.7" fill="#666">20 ms</text>
<text x="852.00" y="130.60" font-size="10.7" fill="#666">400 cpm</text>
<text x="852.00" y="165.60" font-size="10.7" fill="#666">300 cpm</text>
<text x="852.00" y="200.60" font-size="10.7" fill="#666">200 cpm</text>
<text x="852.00" y="235.60" font-size="10.7" fill="#666">100 cpm</text>
<text x="101.64" y="289.70" font-size="10.7" fill="#666">Mar 27</text>
<text x="99.14" y="306.80" font-size="10.7" fill="#666">4:00 pm</text>
<text x="232.04" y="289.70" font-size="10.7" fill="#666">Mar 27</text>
<text x="229.54" y="306.80" font-size="10.7" fill="#666">8:00 pm</text>
<text x="362.34" y="289.70" font-size="10.7" fill="#666">Mar 28</text>
<text x="356.87" y="306.80" font-size="10.7" fill="#666">12:00 am</text>
<text x="492.74" y="289.70" font-size="10.7" fill="#666">Mar 28</text>
<text x="490.24" y="306.80" font-size="10.7" fill="#666">4:00 am</text>
<text x="623.14" y="289.70" font-size="10.7" fill="#666">Mar 28</text>
<text x="620.64" y="306.80" font-size="10.7" fill="#666">8:00 am</text>
<text x="753.64" y="289.70" font-size="10.7" fill="#666">Mar 28</text>
<text x="748.17" y="306.80" font-size="10.7" fill="#666">12:00 pm</text>
<text x="937.54" y="289.70" font-size="10.7" fill="#666">Mar 27</text>
<text x="935.04" y="306.80" font-size="10.7" fill="#666">4:00 pm</text>
<text x="1071.14" y="289.70" font-size="10.7" fill="#666">Mar 27</text>
<text x="1068.64" y="306.80" font-size="10.7" fill="#666">8:00 pm</text>
<text x="1204.74" y="289.70" font-size="10.7" fill="#666">Mar 28</text>
<text x="1199.27" y="306.80" font-size="10.7" fill="#666">12:00 am</text>
<text x="1338.84" y="289.70" font-size="10.7" fill="#666">Mar 28</text>
<text x="1336.34" y="306.80" font-size="10.7" fill="#666">4:00 am</text>
<text x="1472.84" y="289.70" font-size="10.7" fill="#666">Mar 28</text>
<text x="1470.34" y="306.80" font-size="10.7" fill="#666">8:00 am</text>
<text x="1606.64" y="289.70" font-size="10.7" fill="#666">Mar 28</text>
<text x="1601.17" y="306.80" font-size="10.7" fill="#666">12:00 pm</text>
<text x="59.58" y="343.30" font-size="15" font-weight="bold" fill="#555" textLength="41.46" lengthAdjust="spacingAndGlyphs">Redis</text>
<text x="157.20" y="343.30" font-size="15" font-weight="bold" fill="#555" textLength="70.63" lengthAdjust="spacingAndGlyphs" clip-path="url(#cclip3450)">MongoDB</text>
<text x="893.58" y="343.30" font-size="15" font-weight="bold" fill="#555" textLength="41.46" lengthAdjust="spacingAndGlyphs">Redis</text>
<text x="991.20" y="343.30" font-size="15" font-weight="bold" fill="#555" textLength="70.63" lengthAdjust="spacingAndGlyphs" clip-path="url(#cclip3450)">MongoDB</text>
<path d="M200.5,176.5 H523.5 V232.5 H368.3 L360.8,240.5 L353.3,232.5 H200.5 Z" fill="none" stroke="#000" stroke-opacity="0.13" stroke-width="3" transform="translate(1.5,1.5)" filter="url(#blur2)"/><path d="M200.5,176.5 H523.5 V232.5 H368.3 L360.8,240.5 L353.3,232.5 H200.5 Z" fill="#fff" fill-opacity="0.93" stroke="#a6b552" stroke-width="3" stroke-linejoin="miter"/>
<path d="M1001.5,162.5 H1406.5 V218.5 H1210.5 L1203.0,226.5 L1195.5,218.5 H1001.5 Z" fill="none" stroke="#000" stroke-opacity="0.13" stroke-width="3" transform="translate(1.5,1.5)" filter="url(#blur2)"/><path d="M1001.5,162.5 H1406.5 V218.5 H1210.5 L1203.0,226.5 L1195.5,218.5 H1001.5 Z" fill="#fff" fill-opacity="0.93" stroke="#a6b552" stroke-width="3" stroke-linejoin="miter"/>
<text x="210.01" y="201.00" font-size="15" font-weight="bold" fill="#555" textLength="40.64" lengthAdjust="spacingAndGlyphs">Redis</text>
<text x="214.70" y="219.70" font-size="15" fill="#555" textLength="298.24" lengthAdjust="spacingAndGlyphs">4.77 ms from Mar 27, 23:27 till Mar 27, 23:37</text>
<text x="1010.60" y="188.00" font-size="15" font-weight="bold" fill="#555">Redis</text>
<text x="1015.30" y="205.80" font-size="15" fill="#555" textLength="380.64" lengthAdjust="spacingAndGlyphs">52.8 cpm (528 calls) from Mar 27, 23:27 till Mar 27, 23:37</text>
</svg>
</body></html>
